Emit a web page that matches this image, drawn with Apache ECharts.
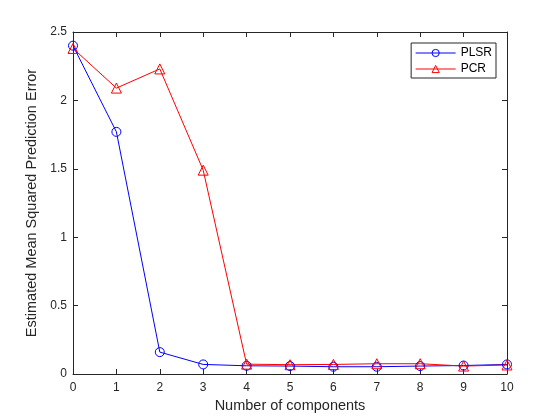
<!DOCTYPE html>
<html><head><meta charset="utf-8">
<script src="https://cdn.jsdelivr.net/npm/echarts@6/dist/echarts.min.js"></script>
<style>html,body{margin:0;padding:0;background:#fff}#c{width:560px;height:420px}</style>
</head><body><div id="c"></div>
<script>
const components = [0,1,2,3,4,5,6,7,8,9,10];
const plsr = [2.40,1.77,0.16,0.07,0.06,0.058,0.053,0.053,0.058,0.062,0.07];
const pcr  = [2.38,2.09,2.23,1.49,0.072,0.068,0.07,0.075,0.075,0.058,0.066];
const yTicks = [0,0.5,1,1.5,2,2.5];

const font = 'Liberation Sans, Arial, sans-serif';
const chart = echarts.init(document.getElementById('c'));
function axisBase(){ return {
  axisLine:{show:true,onZero:false,lineStyle:{color:'#262626',width:1}},
  axisTick:{show:true,inside:true,length:5,lineStyle:{color:'#262626'}},
  splitLine:{show:false}
};}
chart.setOption({
  animation:false,
  backgroundColor:'#fff',
  grid:{left:73,right:53,top:32,bottom:46,containLabel:false},
  legend:{
    right:64, top:43, orient:'vertical',
    borderColor:'#262626', borderWidth:1, backgroundColor:'#fff',
    padding:[4,4,3,4], itemWidth:40, itemHeight:9, itemGap:4,
    textStyle:{fontFamily:font,fontSize:12,color:'#000'},
    lineStyle:{width:1},
    itemStyle:{borderWidth:1},
    data:['PLSR','PCR']
  },
  xAxis:[
    Object.assign({type:'value',min:0,max:10,interval:1,position:'bottom',
      name:'Number of components',nameLocation:'middle',nameGap:24,
      nameTextStyle:{fontFamily:font,fontSize:14.5,color:'#262626'},
      axisLabel:{fontFamily:font,fontSize:12,color:'#262626',margin:8}},axisBase()),
    Object.assign({type:'value',min:0,max:10,interval:1,position:'top',
      axisLabel:{show:false}},axisBase())
  ],
  yAxis:[
    Object.assign({type:'value',min:0,max:2.5,interval:0.5,position:'left',
      name:'Estimated Mean Squared Prediction Error',nameLocation:'middle',nameGap:28,
      nameTextStyle:{fontFamily:font,fontSize:14.5,color:'#262626'},
      axisLabel:{fontFamily:font,fontSize:12,color:'#262626',margin:6,
        formatter:v=>String(yTicks.find(t=>Math.abs(t-v)<1e-9) ?? v)}},axisBase()),
    Object.assign({type:'value',min:0,max:2.5,interval:0.5,position:'right',
      axisLabel:{show:false}},axisBase())
  ],
  series:[
    {name:'PLSR',type:'line',data:components.map((c,i)=>[c,plsr[i]]),
      symbol:'circle',symbolSize:9,
      itemStyle:{color:'rgba(0,0,0,0)',borderColor:'#0000ff',borderWidth:1},
      lineStyle:{color:'#0000ff',width:1}},
    {name:'PCR',type:'line',data:components.map((c,i)=>[c,pcr[i]]),
      symbol:'triangle',symbolSize:10,
      itemStyle:{color:'rgba(0,0,0,0)',borderColor:'#ff0000',borderWidth:1},
      lineStyle:{color:'#ff0000',width:1}}
  ]
});
</script></body></html>
